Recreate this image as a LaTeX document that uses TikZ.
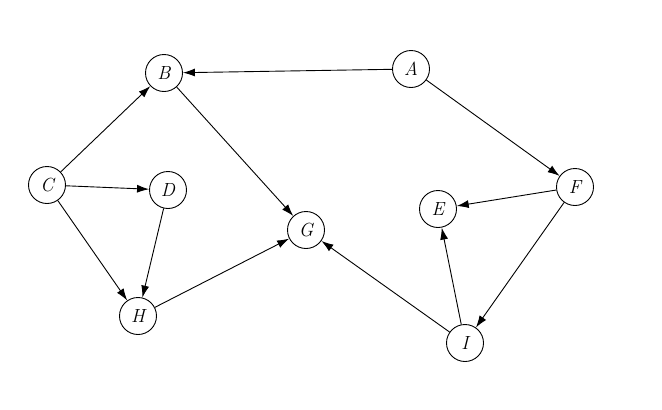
\documentclass[tikz,border=0pt]{standalone}
\usetikzlibrary{arrows.meta}
\begin{document}
\begin{tikzpicture}[x=1pt,y=-1pt,
  vtx/.style={circle,draw,line width=0.9pt,minimum size=37pt,inner sep=0pt,font=\fontsize{19}{19}\selectfont\itshape},
  arr/.style={-{Latex[length=12pt,width=8pt]},line width=0.9pt}]
\useasboundingbox (0,0) rectangle (662,410);
\node[vtx] (A) at (411,69) {A};
\node[vtx] (B) at (164,73) {B};
\node[vtx] (C) at (47,185) {C};
\node[vtx] (D) at (168,190) {D};
\node[vtx] (E) at (438,209) {E};
\node[vtx] (F) at (575,187) {F};
\node[vtx] (G) at (306,230) {G};
\node[vtx] (H) at (138,316) {H};
\node[vtx] (I) at (465,343) {I};
\draw[arr] (A) -- (B);
\draw[arr] (A) -- (F);
\draw[arr] (B) -- (G);
\draw[arr] (C) -- (B);
\draw[arr] (C) -- (D);
\draw[arr] (C) -- (H);
\draw[arr] (D) -- (H);
\draw[arr] (H) -- (G);
\draw[arr] (F) -- (E);
\draw[arr] (F) -- (I);
\draw[arr] (I) -- (G);
\draw[arr] (I) -- (E);
\end{tikzpicture}
\end{document}
